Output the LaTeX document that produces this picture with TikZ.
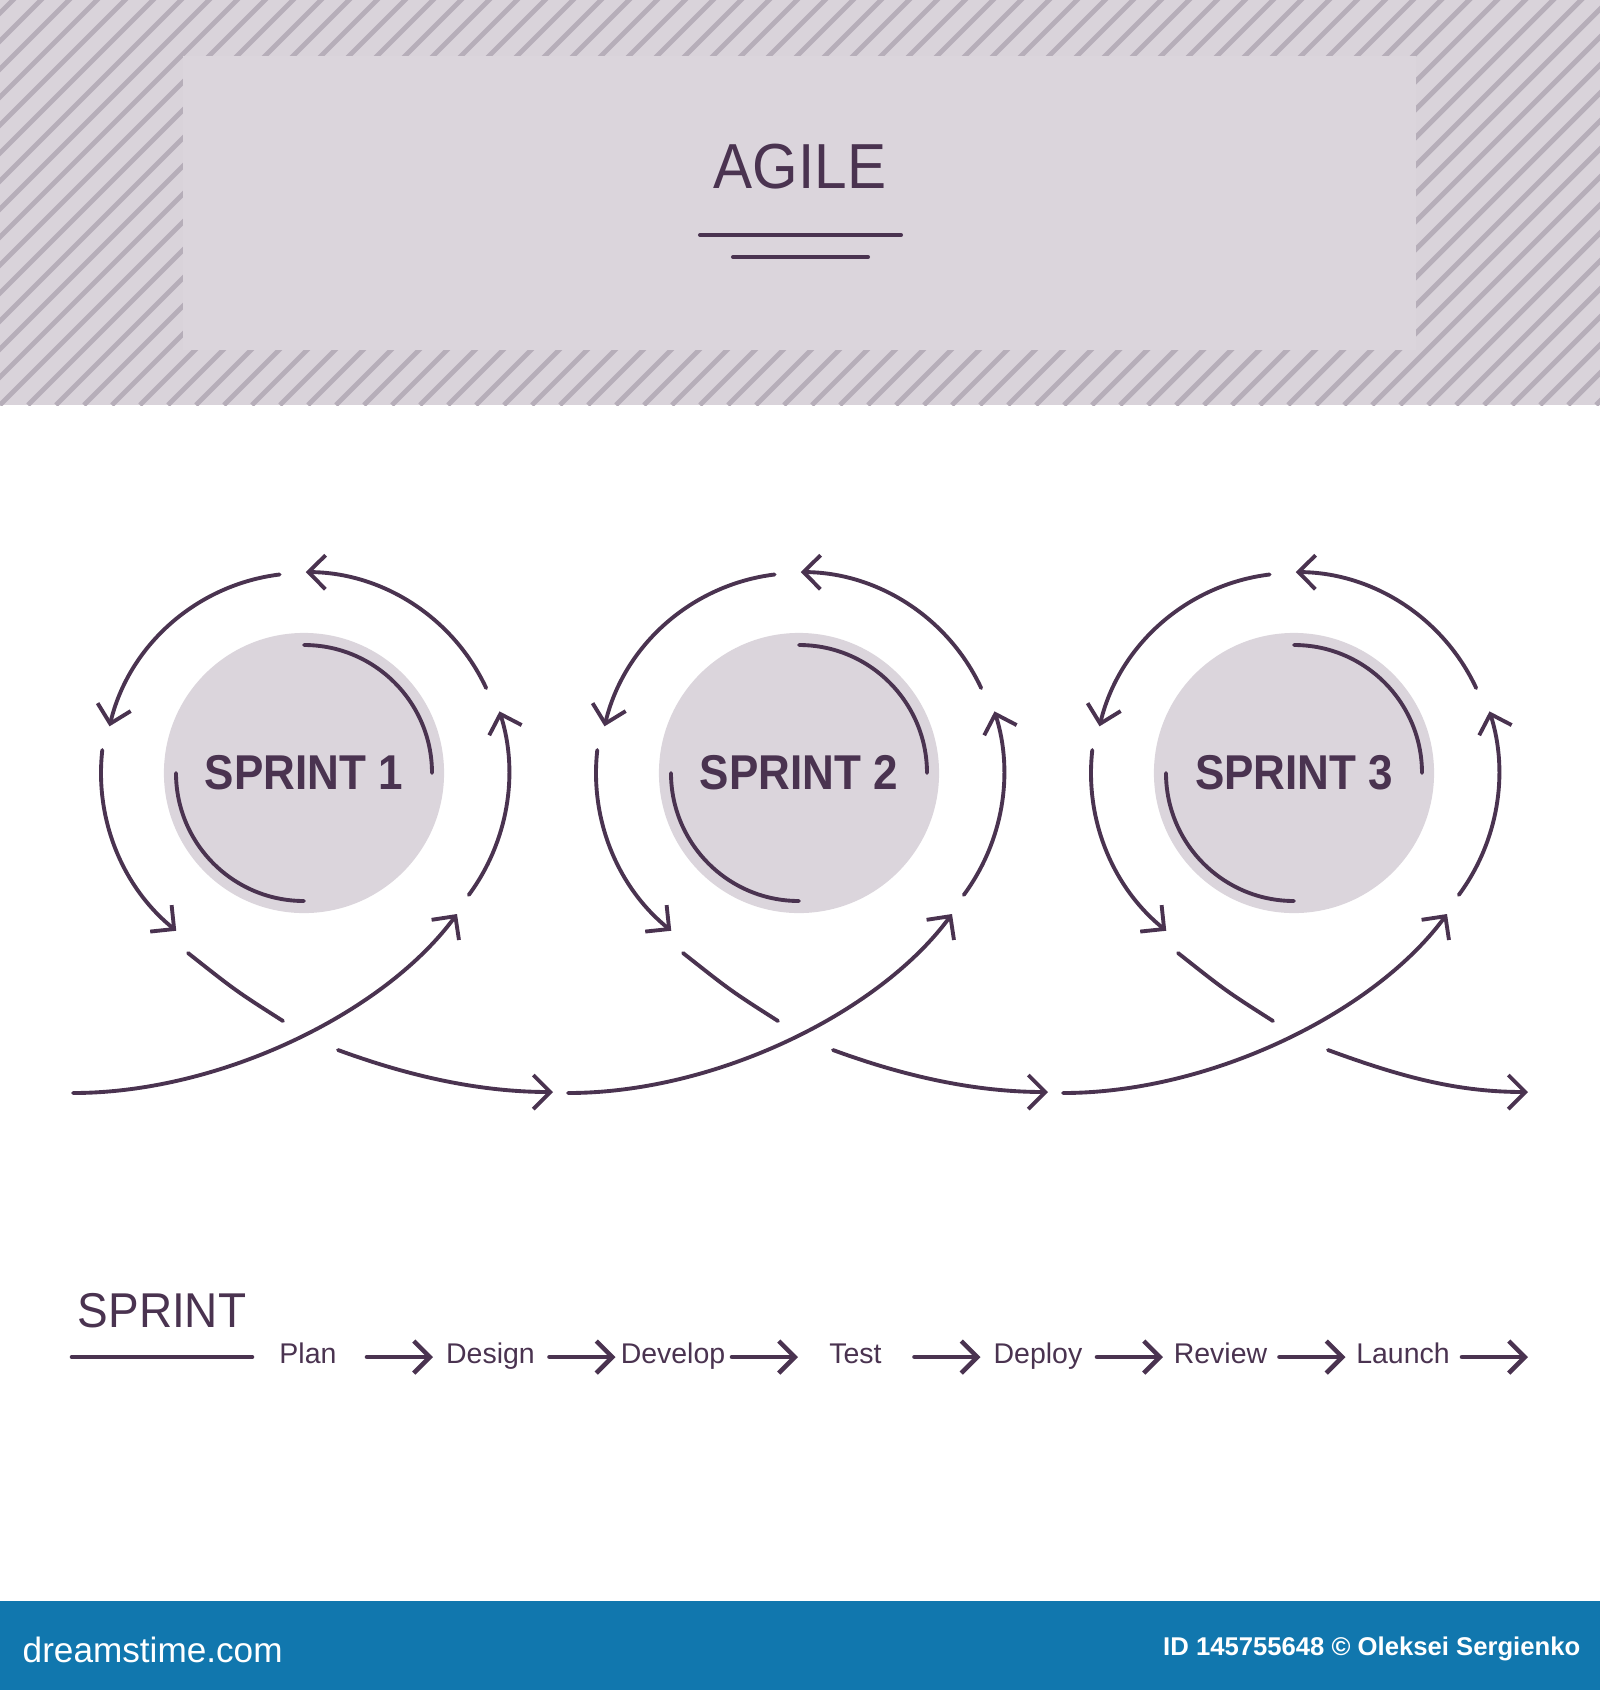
\documentclass[tikz,border=0pt]{standalone}
\usepackage{fontspec}
\setmainfont{Liberation Sans}
\newfontfamily\titlefont[FakeStretch=0.92]{Liberation Sans}
\newfontfamily\sprintfont[FakeStretch=0.9]{Liberation Sans}
\newfontfamily\legendfont[FakeStretch=0.94]{Liberation Sans}
\usetikzlibrary{arrows.meta}
\definecolor{plum}{HTML}{4A3350}
\definecolor{lilac}{HTML}{DBD5DC}
\definecolor{stripebg}{HTML}{D9D3DA}
\definecolor{stripe}{HTML}{B6AEB9}
\definecolor{footblue}{HTML}{1177AE}
\tikzset{
  loopline/.style={plum,line width=1.1pt,line cap=round,line join=round},
  looparrow/.style={loopline,-{Straight Barb[length=1.7mm,width=3.4mm]}},
  steparrow/.style={plum,line width=1.3pt,line cap=round,line join=round,-{Straight Barb[length=1.6mm,width=3.2mm]}},
  disk/.style={circle,fill=lilac,minimum size=2.8cm,inner sep=0pt,text=plum,font=\sprintfont\bfseries\fontsize{13.9pt}{15pt}\selectfont},
  steptext/.style={anchor=base,inner sep=0pt,text=plum,font=\fontsize{8.1pt}{9pt}\selectfont}
}
\begin{document}
\begin{tikzpicture}[x=0.01cm,y=0.01cm]
    \useasboundingbox (0,0) rectangle (1600,-1690);
    \fill[stripebg] (0,0) rectangle (1600,-405);
    \begin{scope}
      \clip (0,0) rectangle (1600,-405);
      \foreach \x in {-420,-392,...,1620}
        \draw[stripe,line width=1.4pt] (\x,-405)--++(420,420);
    \end{scope}
    \fill[lilac] (183,-56) rectangle (1416,-350);
    \node[anchor=base,inner sep=0pt,text=plum,font=\titlefont\fontsize{18.1pt}{20pt}\selectfont] (title) at (800,-188) {AGILE};
    \draw[plum,line width=1.15pt,line cap=round] (700,-235)--(901,-235);
    \draw[plum,line width=1.15pt,line cap=round] (733,-257)--(868,-257);
    \foreach \cx/\ex [count=\i] in {304/249,799/249,1294/234}{
      \node[disk] (sp\i) at (\cx,-773) {SPRINT \i};
      \begin{scope}[shift={(\cx,-773)}]
        \draw[loopline] (90:128) arc[start angle=90,end angle=0,radius=128];
        \draw[loopline] (180:128) arc[start angle=180,end angle=270,radius=128];
        \draw[looparrow] (-36.5:205) arc[start angle=-36.5,end angle=17.5,radius=205];
        \draw[looparrow] (25:201) arc[start angle=25,end angle=89.5,radius=201];
        \draw[looparrow] (97:200) arc[start angle=97,end angle=166.5,radius=200];
        \draw[looparrow] (173.5:203) arc[start angle=173.5,end angle=231,radius=203];
        \draw[loopline] (-116,-180) .. controls (-68,-218) .. (-21,-248);
        \draw[looparrow] (34,-277) .. controls (110,-305) and (\ex-69,-319) .. (\ex,-319);
        \draw[looparrow] (-231,-320) .. controls (-84,-320) and (80,-240) .. (153,-141);
      \end{scope}
    }
    \node[anchor=base west,inner sep=0pt,text=plum,font=\legendfont\fontsize{13.9pt}{15pt}\selectfont] (legend) at (77,-1327) {SPRINT};
    \draw[plum,line width=1.3pt,line cap=round] (72,-1357)--(252,-1357);
    \foreach \w [count=\i] in {Plan,Design,Develop,Test,Deploy,Review,Launch}{
      \pgfmathsetmacro\wx{308+182.5*(\i-1)}
      \node[steptext] (w\i) at (\wx,-1363) {\w};
      \coordinate (a\i) at (\wx+59,-1357);
      \coordinate (b\i) at (\wx+125,-1357);
      \draw[steparrow] (a\i)--(b\i);
    }
    \fill[footblue] (0,-1601) rectangle (1600,-1690);
    \node[anchor=base west,inner sep=0pt,text=white,font=\fontsize{10pt}{12pt}\selectfont] (site) at (22,-1662) {dreamstime.com};
    \node[anchor=base east,inner sep=0pt,text=white,font=\bfseries\fontsize{7.3pt}{9pt}\selectfont] (credit) at (1581,-1655) {ID 145755648 © Oleksei Sergienko};
\end{tikzpicture}
\end{document}
